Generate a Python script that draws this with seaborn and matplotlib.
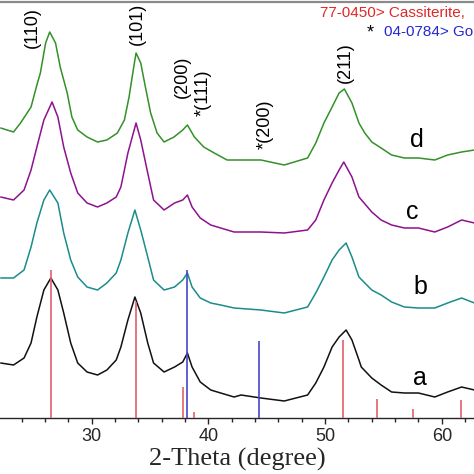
"""XRD patterns a-d with SnO2 / Au reference sticks"""
import numpy as np
import pandas as pd
import matplotlib
matplotlib.use('Agg')
import matplotlib.pyplot as plt
import seaborn as sns

# ---- data (height above x axis, arbitrary units) ----
theta_a = [22.2, 23.3, 24.2, 24.8, 25.3, 25.9, 26.5, 27.1, 27.6, 28.2, 28.8, 29.6, 30.5, 31.3, 32.1,
           32.5, 33.1, 33.7, 34.2, 34.8, 35.3, 36.2, 37.1, 37.8, 38.2, 38.6, 39.3, 40.2, 41.05, 42.2,
           42.8, 44.5, 46.5, 48.5, 49.2, 49.9, 50.6, 51.2, 51.8, 52.3, 52.9, 53.1, 54.0, 54.8, 55.7,
           56.8, 58.0, 59.4, 60.5, 61.7, 62.8]
int_a = [55, 53, 60, 75, 101, 128, 140, 128, 105, 75, 55, 46, 43, 48, 58,
         71, 98, 121, 105, 75, 55, 46, 51, 56, 65, 51, 36, 28, 25, 21,
         23, 20, 17, 23, 35, 51, 71, 81, 88, 78, 58, 51, 40, 33, 26,
         25, 25, 21, 26, 31, 28]

theta_b = [22.2, 23.3, 24.2, 24.8, 25.3, 25.9, 26.4, 27.1, 27.6, 28.2, 28.8, 29.6, 30.5, 31.3, 32.1,
           32.5, 33.1, 33.7, 34.2, 34.8, 35.3, 36.2, 37.1, 37.8, 38.2, 38.6, 39.3, 40.2, 41.05, 42.2,
           44.5, 46.5, 48.5, 49.2, 49.9, 50.6, 51.2, 51.8, 52.3, 52.9, 54.0, 54.8, 55.7, 56.8, 58.0,
           59.4, 60.5, 61.7, 62.8]
int_b = [140, 140, 148, 171, 195, 218, 228, 215, 185, 158, 141, 131, 128, 135, 145,
         158, 185, 208, 188, 161, 138, 128, 131, 138, 145, 131, 120, 115, 113, 110,
         108, 105, 111, 125, 141, 158, 168, 175, 161, 141, 128, 123, 116, 111, 110,
         110, 115, 120, 115]

theta_c = [22.2, 23.3, 24.2, 24.8, 25.3, 25.9, 26.6, 27.1, 27.6, 28.2, 28.8, 29.6, 30.5, 31.3, 32.1,
           32.5, 33.1, 33.8, 34.2, 34.8, 35.3, 36.2, 37.1, 37.8, 38.2, 38.6, 39.3, 40.2, 41.05, 42.2,
           44.5, 46.5, 48.5, 49.2, 49.9, 50.6, 51.2, 51.6, 52.3, 52.9, 54.0, 54.8, 55.7, 56.8, 58.0,
           59.4, 60.5, 61.7, 62.8]
int_c = [221, 218, 228, 248, 271, 298, 316, 301, 271, 245, 225, 215, 211, 215, 221,
         231, 265, 295, 278, 245, 218, 208, 215, 218, 223, 211, 200, 193, 190, 186,
         186, 185, 188, 198, 218, 235, 248, 256, 241, 221, 206, 198, 193, 190, 190,
         186, 191, 198, 195]

theta_d = [22.2, 23.3, 23.9, 24.8, 25.3, 25.6, 26.05, 26.4, 26.9, 27.3, 27.9, 28.3, 28.8, 29.6, 30.5,
           31.3, 32.2, 32.8, 33.2, 33.6, 33.8, 34.2, 34.6, 35.05, 35.6, 36.2, 37.05, 37.8, 38.2, 38.8,
           39.6, 40.5, 41.6, 42.8, 44.5, 46.5, 48.5, 49.2, 49.9, 50.6, 51.2, 51.65, 52.3, 52.9, 53.4,
           54.0, 54.8, 55.7, 56.8, 58.0, 59.4, 60.5, 61.7, 62.8]
int_d = [290, 286, 295, 311, 333, 345, 375, 386, 375, 351, 325, 301, 288, 281, 276,
         278, 285, 298, 321, 351, 365, 355, 331, 305, 285, 276, 281, 288, 293, 281,
         271, 265, 258, 258, 258, 253, 260, 275, 295, 311, 325, 329, 315, 295, 285,
         276, 270, 263, 260, 260, 258, 263, 266, 268]

# reference sticks: 77-0450 cassiterite (red), 04-0784 gold (blue)
sno2_pos = [26.48, 33.79, 37.85, 38.8, 51.5, 54.47, 57.56, 61.62]
sno2_h = [148, 116, 31, 6, 78, 19, 9, 18]
au_pos = [38.14, 44.3]
au_h = [148, 77]

# hkl labels and sample letters
hkl_labels = ['(110)', '(101)', '(200)', '*(111)', '*(200)', '(211)']
hkl_x = [24.93, 33.88, 37.74, 39.53, 44.85, 51.7]
hkl_y = [390, 394, 341, 325, 294, 355]
letters = ['a', 'b', 'c', 'd']
letter_x = [58.13, 58.2, 57.44, 57.87]
letter_y = [40, 131, 206, 278]

colors = {'a': '#111111', 'b': '#1a8c8c', 'c': '#8e128e', 'd': '#339128'}

sns.set_style('ticks')
plt.rcParams['font.family'] = ['Liberation Sans', 'DejaVu Sans']

fig = plt.figure(figsize=(4.74, 4.74), dpi=100)
ax = fig.add_axes([0, 56 / 474, 1, 416 / 474])

curves = [('a', theta_a, int_a), ('b', theta_b, int_b), ('c', theta_c, int_c), ('d', theta_d, int_d)]
for name, tt, ii in curves:
    df = pd.DataFrame({'2theta': tt, 'I': ii})
    sns.lineplot(data=df, x='2theta', y='I', color=colors[name], lw=1.1, ax=ax)

ax.vlines(sno2_pos, 0, sno2_h, color='#e0606a', lw=1.2, zorder=3)
ax.vlines(au_pos, 0, au_h, color='#4646c8', lw=1.2, zorder=3)

for lab, x, y in zip(hkl_labels, hkl_x, hkl_y):
    ax.text(x, y, lab, rotation=90, ha='center', va='center', fontsize=13, color='black')
for lab, x, y in zip(letters, letter_x, letter_y):
    ax.text(x, y, lab, ha='center', va='center', fontsize=18, color='black')

ax.set_xlim(22.14, 62.76)
ax.set_ylim(0, 416)
ax.set_yticks([])
ax.set_xticks([30, 40, 50, 60])
ax.set_xticks(np.arange(24, 63, 2), minor=True)
ax.tick_params(axis='x', which='major', direction='out', length=4, width=1, labelsize=13, pad=3)
ax.tick_params(axis='x', which='minor', direction='out', length=3, width=1)
ax.spines['left'].set_visible(False)
ax.spines['right'].set_visible(False)
ax.spines['top'].set_color('#8a8a8a')
ax.spines['top'].set_linewidth(1.6)
ax.spines['bottom'].set_linewidth(1.0)
ax.set_ylabel('')
ax.set_xlabel('2-Theta (degree)', family='Liberation Serif', fontsize=19, labelpad=2)

fig.text(320 / 474, 1 - 13 / 474, '77-0450> Cassiterite,', color='#e02828',
         fontsize=11, va='center', ha='left')
fig.text(367 / 474, 1 - 33 / 474, '*', color='black', fontsize=13, va='center', ha='left')
fig.text(384 / 474, 1 - 32 / 474, '04-0784> Gold', color='#2626d0',
         fontsize=11, va='center', ha='left')

fig.savefig('out.png', dpi=100)
